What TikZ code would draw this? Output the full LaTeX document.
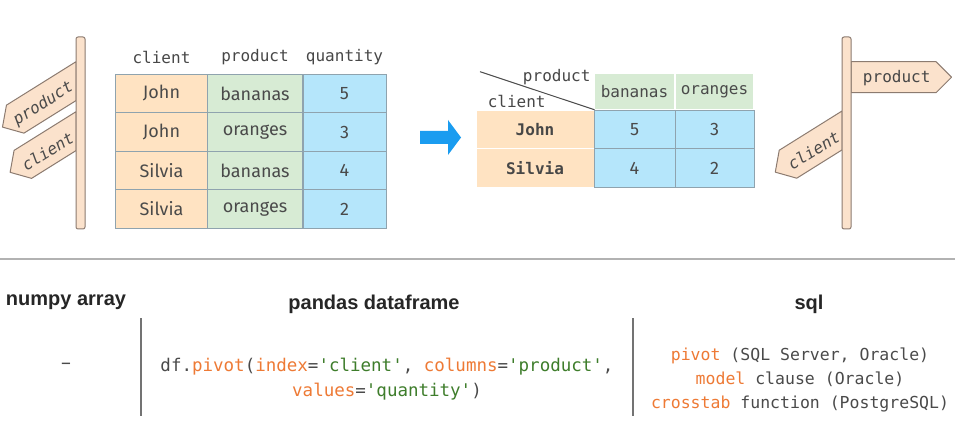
\documentclass[tikz,border=0pt]{standalone}
\usepackage{fontspec}
\setmainfont{Fira Sans}
\setmonofont{DejaVu Sans Mono}
\newfontfamily\headfont{Liberation Sans}
\usepackage{tikz}
\usetikzlibrary{positioning}

\definecolor{clientfill}{HTML}{FFE3C2}
\definecolor{productfill}{HTML}{D7EBD4}
\definecolor{qtyfill}{HTML}{B5E6FB}
\definecolor{cellline}{HTML}{8FA3AE}
\definecolor{signfill}{HTML}{FBE2CC}
\definecolor{signline}{HTML}{8C7B70}
\definecolor{txt}{HTML}{4A4A4A}
\definecolor{kwd}{HTML}{EE7A35}
\definecolor{strg}{HTML}{3E7D2B}
\definecolor{arrowblue}{HTML}{1A9CF0}

\newcommand{\kw}[1]{\textcolor{kwd}{#1}}
\newcommand{\qs}[1]{\textcolor{strg}{#1}}

\begin{document}
\begin{tikzpicture}[x=1pt,y=-1pt,
    cell/.style={draw=cellline,line width=1pt,inner sep=0pt,text=txt,font=\fontsize{18}{20}\selectfont},
    monocell/.style={cell,font=\ttfamily\fontsize{16}{18}\selectfont},
    colhead/.style={text=black!72,font=\ttfamily\fontsize{16}{18}\selectfont},
    sign/.style={fill=signfill,draw=signline,line width=1pt,line join=round},
    signtext/.style={text=txt,font=\ttfamily\itshape\fontsize{16}{18}\selectfont,rotate=32},
    heading/.style={text=black!85,font=\headfont\bfseries\fontsize{20}{24}\selectfont},
    code/.style={text=txt,font=\ttfamily\fontsize{17.5}{25}\selectfont,align=center},
    divider/.style={draw=black!55,line width=1.2pt}]
    \fill[white] (0,0) rectangle (955,438);
    \useasboundingbox (0,0) rectangle (955,438);

    % left signpost
    \begin{scope}[shift={(76,61.7)},rotate=32]
        \draw[sign] (0,0) -- (-82,0) -- (-97,16.5) -- (-82,33) -- (-20.6,33) -- cycle;
        \node[signtext] (lsp) at (-50,18.5) {product};
    \end{scope}
    \begin{scope}[shift={(76,111.7)},rotate=32]
        \draw[sign] (0,0) -- (-73,0) -- (-88,16.5) -- (-73,33) -- (-20.6,33) -- cycle;
        \node[signtext] (lsc) at (-45,18.5) {client};
    \end{scope}
    \draw[sign,rounded corners=2pt] (76,37) rectangle (85,229); % pole

    % long table
    \node[colhead] (hcl) at (161.5,57) {client};
    \node[colhead] (hpr) at (255,57) {product};
    \node[colhead] (hqt) at (344.5,57) {quantity};
    \foreach \who/\what/\num [count=\r] in {John/bananas/5,John/oranges/3,Silvia/bananas/4,Silvia/oranges/2}{
        \node[cell,fill=clientfill,minimum width=91.5pt,minimum height=38.5pt] (cl\r) at (161.5,55+38.5*\r) {\who};
        \node[cell,fill=productfill,minimum width=95.5pt,minimum height=38.5pt] (pr\r) at (255,55+38.5*\r) {\what};
        \node[cell,fill=qtyfill,minimum width=83pt,minimum height=38.5pt] (qt\r) at (344.5,55+38.5*\r) {\num};
    }

    % arrow
    \fill[arrowblue] (420,131) -- (448,131) -- (448,120) -- (461,137.5) -- (448,155) -- (448,144) -- (420,144) -- cycle;

    % wide table
    \node[monocell,draw=white,line width=1.5pt,fill=productfill,minimum width=81pt,minimum height=37pt] (gbn) at (634.5,91.5) {bananas};
    \node[monocell,draw=white,line width=1.5pt,fill=productfill,minimum width=79pt,minimum height=37pt] (gor) at (714.5,91.5) {oranges};
    \foreach \who/\bn/\og [count=\r] in {John/5/3,Silvia/4/2}{
        \node[monocell,draw=white,fill=clientfill,minimum width=118pt,minimum height=38.5pt,text=black!72,font=\ttfamily\bfseries\fontsize{16}{18}\selectfont] (rc\r) at (535,91+38.5*\r) {\who};
        \node[cell,fill=qtyfill,minimum width=81pt,minimum height=38.5pt] (rb\r) at (634.5,91+38.5*\r) {\bn};
        \node[cell,fill=qtyfill,minimum width=79pt,minimum height=38.5pt] (ro\r) at (714.5,91+38.5*\r) {\og};
    }
    \coordinate (diag) at (480,71.7);
    \draw[txt,line width=1pt] (diag) -- (rc1.north east);
    \node[colhead] (dpr) at (556.7,77.5) {product};
    \node[colhead] (dcl) at (516.7,101.5) {client};

    % right signpost
    \draw[sign] (851,61.7) -- (936,61.7) -- (951.5,77.2) -- (936,92.7) -- (851,92.7) -- cycle;
    \node[colhead] (rsp) at (896.7,78) {product};
    \begin{scope}[shift={(842,111)},rotate=32]
        \draw[sign] (0,0) -- (-74,0) -- (-89,16.5) -- (-74,33) -- (-20.6,33) -- cycle;
        \node[signtext] (rsc) at (-45,18.5) {client};
    \end{scope}
    \draw[sign,rounded corners=2pt] (842,37) rectangle (851,229); % pole

    % bottom part
    \draw[line width=2pt,black!30] (0,259) -- (955,259);
    \node[heading] (np) at (66,302) {numpy array};
    \node[heading] (pd) at (374,304) {pandas dataframe};
    \node[heading] (sq) at (809,304) {sql};
    \draw[divider] (141,318) -- (141,416);
    \draw[divider] (633,318) -- (633,416);
    \node[code,font=\fontsize{18}{20}\selectfont] (npc) at (66,366) {--};
    \node[code] (pdc) at (387,379) {df.\kw{pivot}(\kw{index}=\qs{'client'}, \kw{columns}=\qs{'product'},\\ \kw{values}=\qs{'quantity'})};
    \node[code,font=\ttfamily\fontsize{16.5}{24}\selectfont] (sqc) at (800,380) {\kw{pivot} (SQL Server, Oracle)\\ \kw{model} clause (Oracle)\\ \kw{crosstab} function (PostgreSQL)};
\end{tikzpicture}
\end{document}
